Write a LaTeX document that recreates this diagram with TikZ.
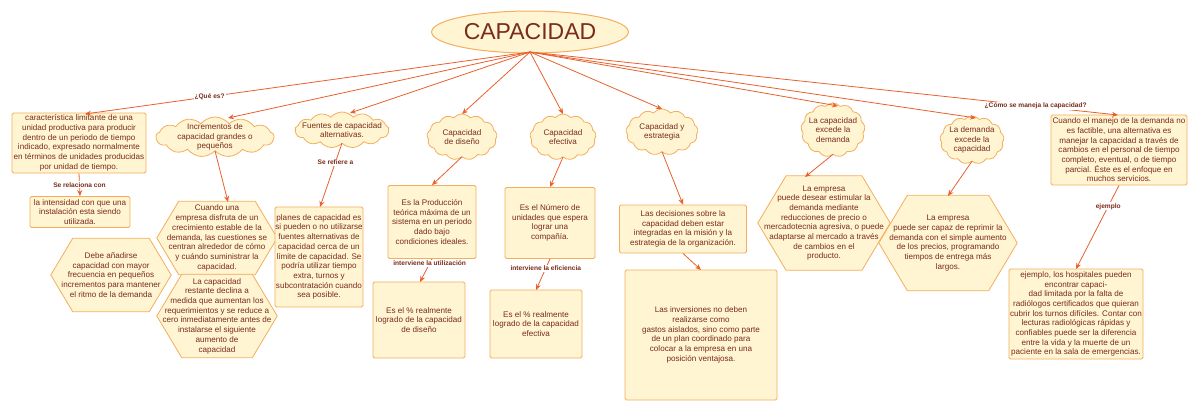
\documentclass[tikz,border=0pt]{standalone}
\usepackage{fontspec}
\setmainfont{Liberation Sans}
\usetikzlibrary{shapes.symbols,shapes.geometric,arrows.meta,calc}
\definecolor{fillc}{HTML}{FFF5D2}
\definecolor{bord}{HTML}{F4AE5C}
\definecolor{txt}{HTML}{7A2B1A}
\definecolor{arr}{HTML}{E8602C}
\begin{document}
\begin{tikzpicture}[x=1pt,y=-1pt,
  every node/.style={text=txt,font=\fontsize{8.1}{9.7}\selectfont,align=center},
  box/.style={draw=bord,fill=fillc,rounded corners=1.5pt,line width=0.8pt,inner sep=0pt},
  cl/.style={cloud,cloud puffs=13,cloud puff arc=100,draw=bord,fill=fillc,line width=0.8pt,inner sep=0pt,outer sep=0pt},
  lab/.style={font=\bfseries\fontsize{6.6}{8}\selectfont,fill=white,inner sep=1pt},
  con/.style={draw=arr,line width=0.8pt,-{Stealth[length=6pt,width=5pt]}},
  hexs/.style={draw=bord,fill=fillc,line width=0.8pt}]
\useasboundingbox (0,0) rectangle (1200,418);
\newcommand{\hexa}[6]{% name cx cy w h text
  \node[minimum width=#4pt,minimum height=#5pt,inner sep=0pt] (#1) at (#2,#3) {};
  \draw[hexs] (#1.west) -- ($(#1.north west)+(#5*0.3,0)$) -- ($(#1.north east)-(#5*0.3,0)$) -- (#1.east) -- ($(#1.south east)-(#5*0.3,0)$) -- ($(#1.south west)+(#5*0.3,0)$) -- cycle;
  \node at (#1.center) {#6};}
\newcommand{\cld}[6]{% name cx cy w h text
  \node[cl,minimum width=#4pt,minimum height=#5pt] (#1) at (#2,#3) {};
  \node at (#1.center) {#6};}
% title
\node[ellipse,draw=bord,fill=fillc,line width=1pt,minimum width=160pt,minimum height=42pt,font=\fontsize{23}{25}\selectfont] (T) at (530,32) {CAPACIDAD};
% branch 1
\node[box,minimum width=134pt,minimum height=60pt] (A) at (79,143) {característica limitante de una\\unidad productiva para producir\\dentro de un periodo de tiempo\\indicado, expresado normalmente\\en términos de unidades producidas\\por unidad de tiempo.};
\node[box,minimum width=100pt,minimum height=31pt] (A2) at (80,212) {la intensidad con que una\\instalación esta siendo\\utilizada.};
% branch 2
\cld{B}{215}{137}{118}{40}{Incrementos de\\capacidad grandes o\\pequeños}
\hexa{B1}{217}{238}{120}{73}{Cuando una\\empresa disfruta de un\\crecimiento estable de la\\demanda, las cuestiones se\\centran alrededor de cómo\\y cuándo suministrar la\\capacidad.}
\hexa{B2}{111}{275}{120}{73}{Debe añadirse\\capacidad con mayor\\frecuencia en pequeños\\incrementos para mantener\\el ritmo de la demanda}
\hexa{B3}{217}{316}{120}{83}{La capacidad\\restante declina a\\medida que aumentan los\\requerimientos y se reduce a\\cero inmediatamente antes de\\instalarse el siguiente\\aumento de\\capacidad}
% branch 3
\cld{C}{342}{130}{94}{36}{Fuentes de capacidad\\alternativas.}
\node[box,minimum width=88pt,minimum height=100pt] (C1) at (319,257) {planes de capacidad es\\si pueden o no utilizarse\\fuentes alternativas de\\capacidad cerca de un\\límite de capacidad. Se\\podría utilizar tiempo\\extra, turnos y\\subcontratación cuando\\sea posible.};
% branch 4
\cld{D}{462}{137}{70}{46}{Capacidad\\de diseño}
\node[box,minimum width=88pt,minimum height=73pt] (D1) at (432,222) {Es la Producción\\teórica máxima de un\\sistema en un periodo\\dado bajo\\condiciones ideales.};
\node[box,minimum width=92pt,minimum height=76pt] (D2) at (419,320) {Es el \% realmente\\logrado de la capacidad\\de diseño};
% branch 5
\cld{E}{563}{137}{66}{46}{Capacidad\\efectiva}
\node[box,minimum width=90pt,minimum height=71pt] (E1) at (550,223) {Es el Número de\\unidades que espera\\lograr una\\compañía.};
\node[box,minimum width=92pt,minimum height=68pt] (E2) at (536,324) {Es el \% realmente\\logrado de la capacidad\\efectiva};
% branch 6
\cld{F}{662}{132}{72}{46}{Capacidad y\\estrategia}
\node[box,minimum width=127pt,minimum height=48pt] (F1) at (683,229) {Las decisiones sobre la\\capacidad deben estar\\integradas en la misión y la\\estrategia de la organización.};
\node[box,minimum width=152pt,minimum height=130pt] (F2) at (701,335) {Las inversiones no deben\\realizarse como\\gastos aislados, sino como parte\\de un plan coordinado para\\colocar a la empresa en una\\posición ventajosa.};
% branch 7
\cld{G}{833}{130}{64}{54}{La capacidad\\excede la\\demanda}
\hexa{G1}{824}{223}{132}{94}{La empresa\\puede desear estimular la\\demanda mediante\\reducciones de precio o\\mercadotecnia agresiva, o puede\\adaptarse al mercado a través\\de cambios en el\\producto.}
% branch 8
\cld{H}{972}{140}{64}{48}{La demanda\\excede la\\capacidad}
\hexa{H1}{948}{243}{138}{95}{La empresa\\puede ser capaz de reprimir la\\demanda con el simple aumento\\de los precios, programando\\tiempos de entrega más\\largos.}
% branch 9
\node[box,minimum width=136pt,minimum height=70pt] (I) at (1119,150) {Cuando el manejo de la demanda no\\es factible, una alternativa es\\manejar la capacidad a través de\\cambios en el personal de tiempo\\completo, eventual, o de tiempo\\parcial. Éste es el enfoque en\\muchos servicios.};
\node[box,minimum width=134pt,minimum height=90pt] (I1) at (1076,314) {ejemplo, los hospitales pueden\\encontrar capaci-\\dad limitada por la falta de\\radiólogos certificados que quieran\\cubrir los turnos difíciles. Contar con\\lecturas radiológicas rápidas y\\confiables puede ser la diferencia\\entre la vida y la muerte de un\\paciente en la sala de emergencias.};
% connectors from title
\coordinate (o) at (530,52);
\draw[con] (o) -- (85,114) node[lab,pos=0.72] {¿Qué es?};
\draw[con] (o) -- (228,118);
\draw[con] (o) -- (350,113);
\draw[con] (o) -- (D.north);
\draw[con] (o) -- (E.north);
\draw[con] (o) -- (F.north);
\draw[con] (o) -- (838,106);
\draw[con] (o) -- (976,118);
\draw[con] (o) -- (1118,115) node[lab,pos=0.86] {¿Cómo se maneja la capacidad?};
% secondary connectors
\draw[con] (A.south) -- (A2.north) node[lab,midway] {Se relaciona con};
\draw[con] (B.south) -- (228,202);
\draw[con] (C.south) -- (320,207) node[lab,pos=0.3] {Se refiere a};
\draw[con] (D.south) -- (D1.north);
\draw[con] (D1.south) -- (420,282) node[lab,pos=0.2] {interviene la utilización};
\draw[con] (E.south) -- (550,187);
\draw[con] (E1.south) -- (536,290) node[lab,pos=0.3] {interviene la eficiencia};
\draw[con] (F.south) -- (F1.north);
\draw[con] (F1.south) -- (701,270);
\draw[con] (G.south) -- (805,177);
\draw[con] (H.south) -- (948,196);
\draw[con] (I.south) -- (1076,269) node[lab,pos=0.25] {ejemplo};
\end{tikzpicture}
\end{document}
